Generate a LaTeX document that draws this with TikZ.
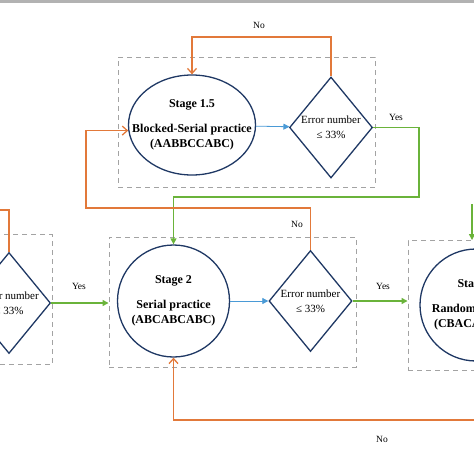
\documentclass[tikz,border=0pt]{standalone}
\usepackage{fontspec}
\setmainfont{Liberation Serif}
\usepackage{tikz}
\usetikzlibrary{shapes.geometric,arrows.meta}
\definecolor{navy}{HTML}{1F3864}
\definecolor{orange}{HTML}{E2793A}
\definecolor{green}{HTML}{6AB33A}
\definecolor{blue}{HTML}{4A9AD6}
\definecolor{muted}{HTML}{A3A3A3}
\tikzset{
  stage/.style={draw=navy, line width=1.3pt, inner sep=0pt},
  stagetxt/.style={font=\fontsize{12}{15.5}\selectfont\bfseries, align=center},
  decision/.style={diamond, draw=navy, line width=1.3pt, inner sep=0pt, shape aspect=0.8,
    minimum width=83pt, minimum height=101pt, align=center, font=\fontsize{11}{15}\selectfont},
  dbox/.style={draw=muted, line width=0.9pt, dash pattern=on 5pt off 4pt, minimum height=130pt},
  yline/.style={draw=green, line width=1.3pt, -{Triangle[length=6pt,width=6pt]}},
  nline/.style={draw=orange, line width=1.3pt, -{Straight Barb[length=5pt,width=9pt]}},
  bline/.style={draw=blue, line width=0.8pt, -{Triangle[length=6pt,width=6pt]}},
  lbl/.style={font=\fontsize{9.5}{11}\selectfont}
}

\begin{document}
\begin{tikzpicture}[x=1pt, y=-1pt]
  \useasboundingbox (0,0) rectangle (474,474);
  \clip (0,0) rectangle (474,474);
  \fill[gray!60] (0,0) rectangle (474,2.5);

  % dashed stage boxes
  \node[dbox, minimum width=250pt] (b1) at (-73,299.5) {};
  \node[dbox, minimum width=257pt] (b15) at (246.5,122) {};
  \node[dbox, minimum width=247pt] (b2) at (232.5,302) {};
  \node[dbox, minimum width=250pt] (b3) at (533,305.5) {};

  % stages
  \node[stage, ellipse, minimum width=127pt, minimum height=100pt,
    label={[stagetxt]center:{Stage 1.5\\[9pt]Blocked-Serial practice\\(AABBCCABC)}}] (s15) at (192,125) {};
  \node[stage, circle, minimum size=112pt,
    label={[stagetxt]center:{Stage 2\\[9pt]Serial practice\\(ABCABCABC)}}] (s2) at (173.5,301) {};
  \node[stage, circle, minimum size=112pt,
    label={[stagetxt]center:{Stage 3\\[9pt]Random practice\\(CBACABBCA)}}] (s3) at (476,305) {};

  % checks
  \node[decision] (d1) at (9,303) {Error number\\≤ 33\%};
  \node[decision] (d15) at (331,127.5) {Error number\\≤ 33\%};
  \node[decision] (d2) at (310.5,301) {Error number\\≤ 33\%};

  \coordinate (ntop) at (260,37);
  \coordinate (nmid) at (86,208);
  \coordinate (nleft) at (-20,210);
  \coordinate (nbot) at (490,420);
  \coordinate (yturn) at (419,197);
  \coordinate (ytop) at (472,204);

  \draw[bline] (s15) -- (d15);
  \draw[bline] (s2) -- (d2);

  \draw[yline] (d1.east) -- (d1.east -| b2.west);
  \draw[yline] (d2.east) -- (d2.east -| b3.west);
  \draw[yline] (d15.east) -| (yturn) -| (s2.north);
  \draw[yline] (ytop) -- (ytop |- b3.north);

  \draw[nline] (d15.north) |- (ntop) -| (s15.north);
  \draw[nline] (d2.north) |- (nmid) |- (s15.185);
  \draw[nline] (nbot) -| (s2.south);
  \draw[draw=orange, line width=1.3pt] (d1.north) |- (nleft);

  \node[lbl] (no1) at (259,25) {No};
  \node[lbl] (yes1) at (396,117) {Yes};
  \node[lbl] (no2) at (297,224) {No};
  \node[lbl] (yes2) at (79,286) {Yes};
  \node[lbl] (yes3) at (383,286) {Yes};
  \node[lbl] (no3) at (382,439) {No};
\end{tikzpicture}
\end{document}
